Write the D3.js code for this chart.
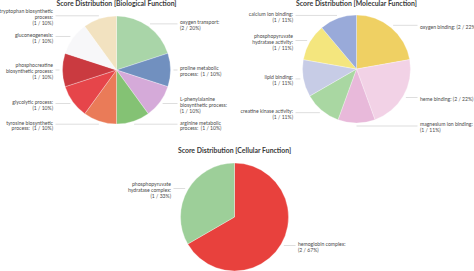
<!DOCTYPE html>
<html><head><meta charset="utf-8">
<script src="https://cdn.jsdelivr.net/npm/d3@7"></script>
<style>html,body{margin:0;padding:0;background:#fff;overflow:hidden}</style>
</head><body>
<svg id="chart" width="474" height="271"></svg>
<script>
// ---- Data ----
const bioTitle = "Score Distribution [Biological Function]";
const bioCategories = ["oxygen transport","proline metabolic process","L-phenylalanine biosynthetic process","arginine metabolic process","tyrosine biosynthetic process","glycolytic process","phosphocreatine biosynthetic process","gluconeogenesis","tryptophan biosynthetic process"];
const bioValues = [2,1,1,1,1,1,1,1,1];
const bioLabels = ["oxygen transport:\n{v}","proline metabolic\nprocess:  {v}","L-phenylalanine\nbiosynthetic process:\n{v}","arginine metabolic\nprocess:  {v}","tyrosine biosynthetic\nprocess:  {v}","glycolytic process:\n{v}","phosphocreatine\nbiosynthetic process:\n{v}","gluconeogenesis:\n{v}","tryptophan biosynthetic\nprocess:\n{v}"];
const bioColors = ["#a9d5a8","#7190bf","#d5aad9","#84c274","#ea7b58","#e6454a","#ca3a40","#f7f7f9","#f2e2c0"];

const molTitle = "Score Distribution [Molecular Function]";
const molCategories = ["oxygen binding","heme binding","magnesium ion binding","creatine kinase activity","lipid binding","phosphopyruvate hydratase activity","calcium ion binding"];
const molValues = [2,2,1,1,1,1,1];
const molLabels = ["oxygen binding: {v}","heme binding: {v}","magnesium ion binding:\n{v}","creatine kinase activity:\n{v}","lipid binding:\n{v}","phosphopyruvate\nhydratase activity:\n{v}","calcium ion binding:\n{v}"];
const molColors = ["#efd063","#f2d2e6","#e8b9da","#a9d7a2","#c7cce6","#f4e67e","#99aad9"];

const celTitle = "Score Distribution [Cellular Function]";
const celCategories = ["hemoglobin complex","phosphopyruvate hydratase complex"];
const celValues = [2,1];
const celLabels = ["hemoglobin complex:\n{v}","phosphopyruvate\nhydratase complex:\n{v}"];
const celColors = ["#e8413d","#9dcf99"];

// ---- Drawing ----
const svg = d3.select("#chart");
svg.append("rect").attr("width",474).attr("height",271).attr("fill","#fff");
const FONT = "Lato, 'Open Sans', sans-serif";

function drawPie(cfg){
  const {cx, cy, r, titleY, title, values, labels, colors} = cfg;
  const total = d3.sum(values);
  const g = svg.append("g");
  g.append("text").attr("x",cx).attr("y",titleY).attr("text-anchor","middle")
    .attr("font-family",FONT).attr("font-weight","bold").attr("font-size",6.9)
    .attr("fill","#3a3a3a").text(title);
  const pie = d3.pie().sort(null).value(d=>d);
  const arcs = pie(values);
  const arc = d3.arc().innerRadius(0).outerRadius(r);
  const pg = g.append("g").attr("transform",`translate(${cx},${cy})`);
  pg.selectAll("path").data(arcs).enter().append("path")
    .attr("d",arc).attr("fill",(d,i)=>colors[i])
    .attr("stroke","#fff").attr("stroke-width",0.3);
  const lh = 5.9, fs = 5.1;
  arcs.forEach((d,i)=>{
    const a = (d.startAngle+d.endAngle)/2;
    const right = a <= Math.PI + 1e-6;
    const px = cx + Math.sin(a)*(r+3), py = cy - Math.cos(a)*(r+3);
    const lx = right ? cx + r + 9.5 : cx - r - 9.5;
    g.append("line").attr("x1",px).attr("y1",py).attr("x2",right?lx-2.5:lx+2.5).attr("y2",py)
      .attr("stroke","#c8c8c8").attr("stroke-width",0.6);
    const pct = Math.round(values[i]/total*100);
    const txt = labels[i].replace("{v}",`(${values[i]} / ${pct}%)`);
    const lines = txt.split("\n");
    const first = py + 1.5 - (lines.length-1)*lh/2 + fs*0.35;
    const t = g.append("text").attr("font-family",FONT).attr("font-size",fs)
      .attr("fill","#4a4a4a").attr("text-anchor", right?"start":"end");
    lines.forEach((ln,k)=>{
      t.append("tspan").attr("x",lx).attr("y",first + k*lh).attr("xml:space","preserve").text(ln);
    });
  });
}

drawPie({cx:116.5, cy:70, r:54, titleY:6, title:bioTitle, values:bioValues, labels:bioLabels, colors:bioColors});
drawPie({cx:356.5, cy:69, r:54, titleY:6, title:molTitle, values:molValues, labels:molLabels, colors:molColors});
drawPie({cx:234.5, cy:217, r:54, titleY:153, title:celTitle, values:celValues, labels:celLabels, colors:celColors});
</script>
</body></html>
